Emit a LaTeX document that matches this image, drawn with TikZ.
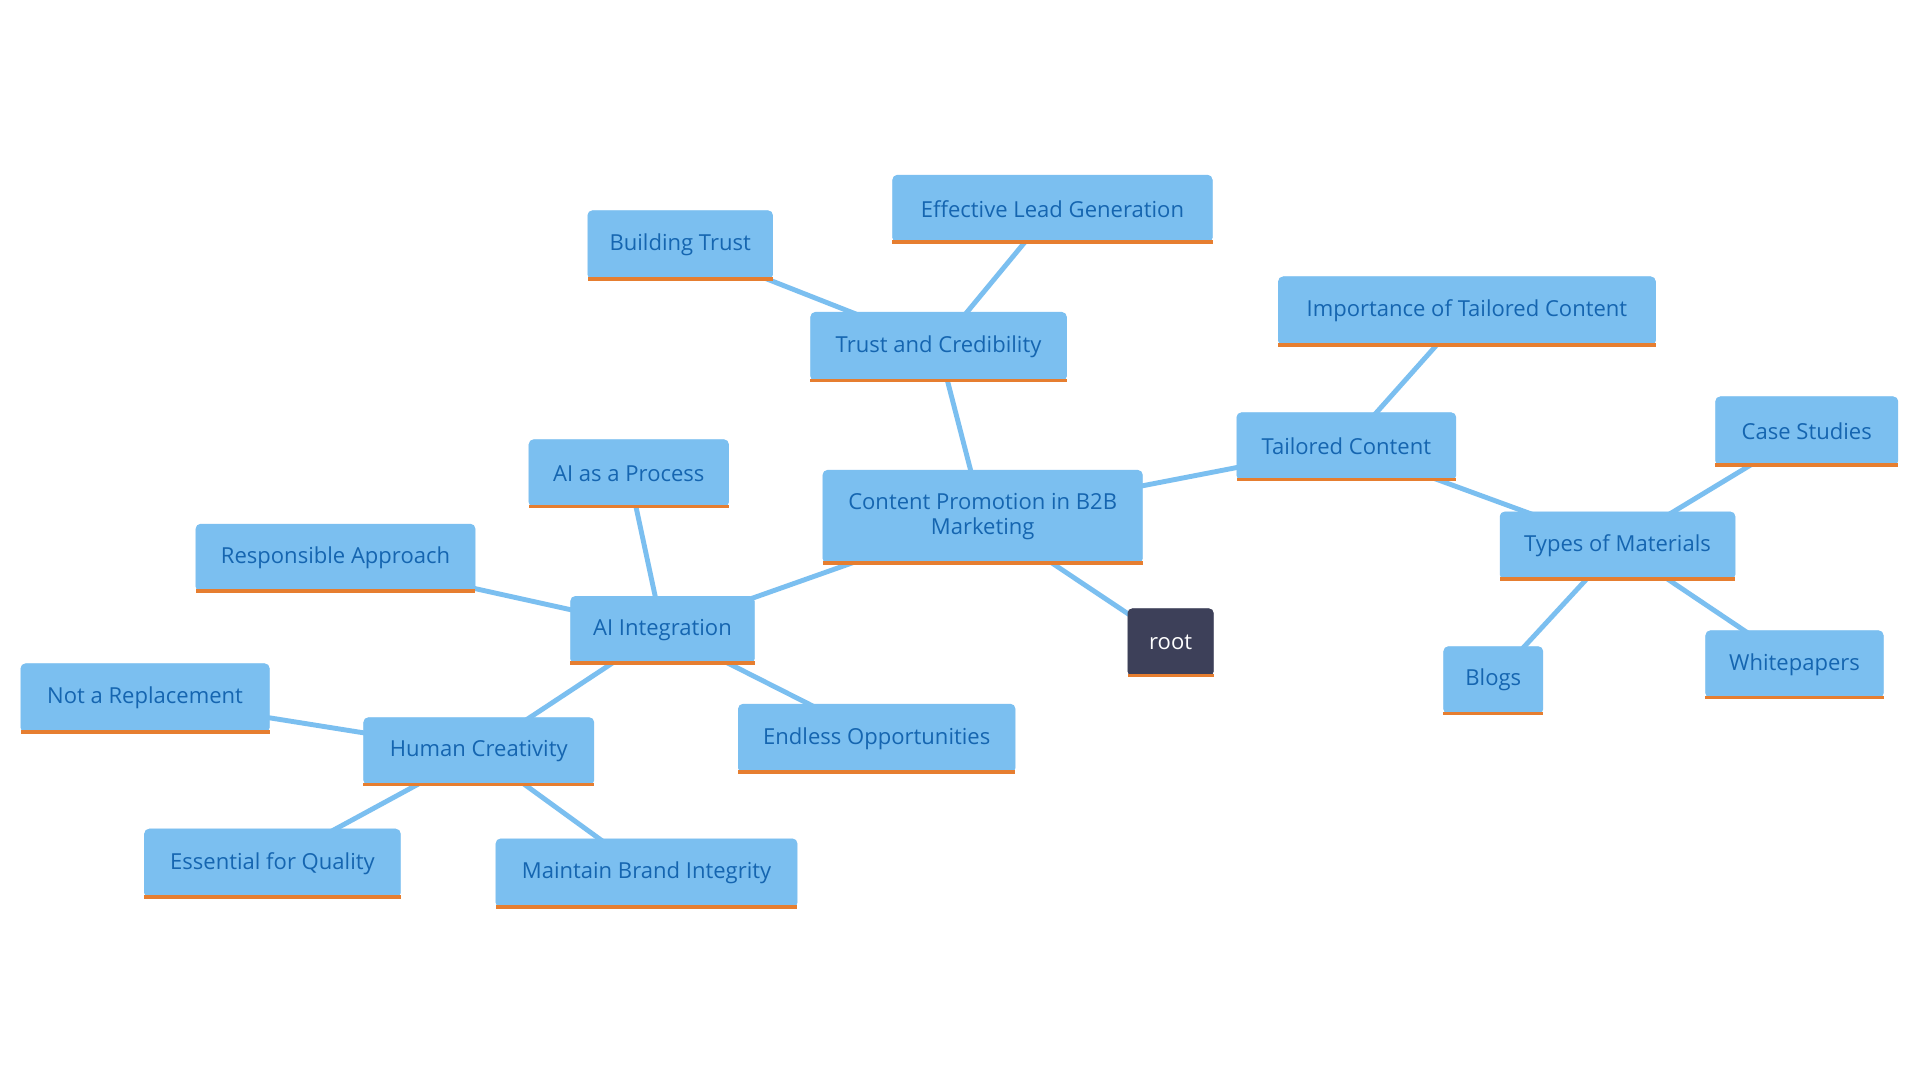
\documentclass[tikz,border=0pt]{standalone}
\usepackage{fontspec}
\setmainfont{Open Sans}
\begin{document}
\begin{tikzpicture}[x=1pt,y=-1pt,
  box/.style={fill=boxblue,text=txtblue,rounded corners=4pt,inner sep=0pt,align=center,font=\fontsize{18}{20}\selectfont},
  edge/.style={draw=boxblue,line width=4pt}]
\definecolor{boxblue}{HTML}{7BBFF0}
\definecolor{txtblue}{HTML}{1565B0}
\definecolor{orng}{HTML}{E67E30}
\definecolor{dark}{HTML}{3D4059}
\useasboundingbox[fill=white] (0,0) rectangle (1568,882);
\newcommand\bx[6]{\node[box,minimum width={#4-#2},minimum height={#5-#3}] (#1) at ({(#2+#4)/2},{(#3+#5)/2}) {#6};}
\begin{scope}[on background layer/.style={}]
\end{scope}
% nodes (drawn first invisibly for coordinates)
\bx{cp}{672}{384}{933}{460}{Content Promotion in B2B\\Marketing}
\node[box,fill=dark,text=white,minimum width=70,minimum height=55] (root) at (956,524.5) {root};
\bx{tc}{662}{255}{871}{311}{Trust and Credibility}
\bx{bt}{480}{172}{631}{228}{Building Trust}
\bx{el}{729}{143}{990}{198}{Effective Lead Generation}
\bx{tl}{1010}{337}{1189}{392}{Tailored Content}
\bx{it}{1044}{226}{1352}{282}{Importance of Tailored Content}
\bx{tm}{1225}{418}{1417}{473}{Types of Materials}
\bx{cs}{1401}{324}{1550}{380}{Case Studies}
\bx{bl}{1179}{528}{1260}{583}{Blogs}
\bx{wp}{1393}{515}{1538}{570}{Whitepapers}
\bx{ai}{466}{487}{616}{542}{AI Integration}
\bx{ap}{432}{359}{595}{414}{AI as a Process}
\bx{ra}{160}{428}{388}{483}{Responsible Approach}
\bx{eo}{603}{575}{829}{631}{Endless Opportunities}
\bx{hc}{297}{586}{485}{641}{Human Creativity}
\bx{nr}{17}{542}{220}{598}{Not a Replacement}
\bx{eq}{118}{677}{327}{733}{Essential for Quality}
\bx{mb}{405}{685}{651}{741}{Maintain Brand Integrity}
% edges
\foreach \a/\b in {cp/root,cp/tc,tc/bt,tc/el,cp/tl,tl/it,tl/tm,tm/cs,tm/bl,tm/wp,cp/ai,ai/ap,ai/ra,ai/eo,ai/hc,hc/nr,hc/eq,hc/mb}
  \draw[edge] (\a.center) -- (\b.center);
% redraw boxes on top
\foreach \n in {cp,tc,bt,el,tl,it,tm,cs,bl,wp,ai,ap,ra,eo,hc,nr,eq,mb}{
  \fill[boxblue,rounded corners=4pt] (\n.north west) rectangle (\n.south east);
  \fill[orng] ([yshift=2pt]\n.south west) rectangle ([yshift=-1pt]\n.south east);
}
\fill[dark,rounded corners=4pt] (root.north west) rectangle (root.south east);
\fill[orng] ([yshift=2pt]root.south west) rectangle ([yshift=-1pt]root.south east);
\node[text=white,font=\fontsize{18}{20}\selectfont] at (root) {root};
\node[box,fill=none] at (cp) {Content Promotion in B2B\\Marketing};
\node[box,fill=none] at (tc) {Trust and Credibility};
\node[box,fill=none] at (bt) {Building Trust};
\node[box,fill=none] at (el) {Effective Lead Generation};
\node[box,fill=none] at (tl) {Tailored Content};
\node[box,fill=none] at (it) {Importance of Tailored Content};
\node[box,fill=none] at (tm) {Types of Materials};
\node[box,fill=none] at (cs) {Case Studies};
\node[box,fill=none] at (bl) {Blogs};
\node[box,fill=none] at (wp) {Whitepapers};
\node[box,fill=none] at (ai) {AI Integration};
\node[box,fill=none] at (ap) {AI as a Process};
\node[box,fill=none] at (ra) {Responsible Approach};
\node[box,fill=none] at (eo) {Endless Opportunities};
\node[box,fill=none] at (hc) {Human Creativity};
\node[box,fill=none] at (nr) {Not a Replacement};
\node[box,fill=none] at (eq) {Essential for Quality};
\node[box,fill=none] at (mb) {Maintain Brand Integrity};
\end{tikzpicture}
\end{document}
